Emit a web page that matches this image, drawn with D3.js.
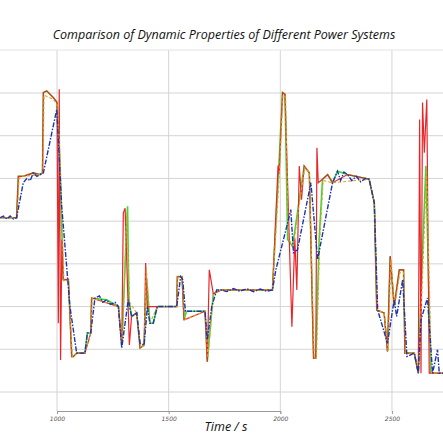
<!DOCTYPE html><html><head><meta charset="utf-8"><script src="https://cdn.jsdelivr.net/npm/d3@7/dist/d3.min.js"></script>
<style>body{margin:0;background:#fff}</style></head><body><svg id="c" width="443" height="443"></svg><script>
const title="Comparison of Dynamic Properties of Different Power Systems";
const xLabel="Time / s";
const xTicks=[1000,1500,2000,2500];
const yGrid=[0,1,2,3,4,5,6,7];
const blue=[[745,4.08],[760,4.12],[775,4.05],[790,4.12],[805,4.05],[819,4.08],[849,4.9],[865,5.0],[880,4.95],[894,5.13],[910,5.05],[924,5.09],[939,5.13],[999,6.62],[1021,4.35],[1058,2.0],[1073,1.46],[1088,0.91],[1125,0.91],[1136,1.38],[1151,1.38],[1170,2.2],[1190,2.25],[1205,2.1],[1222,2.16],[1240,2.05],[1260,2.1],[1275,2.0],[1290,1.03],[1319,2.16],[1334,1.77],[1357,1.85],[1372,1.14],[1390,1.1],[1405,2.0],[1416,1.61],[1431,1.61],[1449,2.0],[1536,2.0],[1554,2.7],[1563,2.63],[1575,1.89],[1663,1.89],[1673,1.22],[1693,2.0],[1715,2.39],[1734,2.39],[1760,2.35],[1790,2.42],[1820,2.36],[1850,2.42],[1880,2.35],[1910,2.41],[1940,2.36],[1965,2.39],[1980,2.86],[2033,3.96],[2047,4.27],[2059,3.26],[2077,3.33],[2137,4.9],[2167,3.1],[2234,4.9],[2256,5.17],[2270,4.95],[2285,5.15],[2301,5.09],[2320,4.95],[2340,5.05],[2360,4.92],[2380,5.0],[2398,4.98],[2421,4.43],[2436,1.92],[2458,1.53],[2480,1.14],[2510,2.16],[2521,1.77],[2548,2.63],[2567,0.83],[2600,0.91],[2618,0.44],[2630,1.69],[2659,2.2],[2682,0.44],[2704,0.99],[2712,0.44],[2728,0.44]];
const green=[[745,4.08],[819,4.08],[827,5.05],[849,5.05],[894,5.13],[924,5.09],[935,5.13],[939,7.01],[954,7.05],[984,6.89],[1000,6.78],[1013,5.37],[1028,2.63],[1051,2.63],[1066,0.83],[1073,0.83],[1088,0.91],[1125,0.91],[1136,1.38],[1151,1.38],[1155,2.2],[1222,2.16],[1275,2.0],[1290,1.1],[1316,4.35],[1322,2.16],[1334,1.77],[1357,1.85],[1372,1.03],[1390,1.1],[1402,2.63],[1416,1.61],[1431,1.61],[1449,2.0],[1536,2.0],[1539,2.7],[1560,2.7],[1569,1.69],[1580,1.89],[1663,1.89],[1673,0.71],[1700,2.3],[1734,2.39],[1965,2.39],[1995,5.45],[2010,7.01],[2021,6.97],[2033,3.57],[2055,3.41],[2085,4.5],[2107,5.29],[2130,5.13],[2149,0.79],[2159,0.79],[2174,3.57],[2189,4.98],[2212,5.09],[2234,4.9],[2256,5.17],[2301,5.09],[2398,4.98],[2421,4.43],[2432,1.92],[2465,1.85],[2480,0.95],[2492,3.18],[2510,2.0],[2533,2.86],[2552,2.86],[2558,0.91],[2600,0.91],[2618,0.44],[2630,2.3],[2652,5.29],[2674,0.44],[2728,0.44]];
const red=[[745,4.08],[819,4.08],[827,5.05],[849,5.05],[894,5.13],[924,5.09],[935,5.13],[939,7.01],[954,7.05],[984,6.89],[1000,6.78],[1006,1.61],[1010,7.09],[1016,0.75],[1022,3.57],[1028,2.63],[1051,2.63],[1066,0.83],[1073,0.83],[1088,0.91],[1125,0.91],[1151,1.38],[1155,2.2],[1275,2.0],[1290,1.1],[1297,4.19],[1305,4.3],[1324,1.1],[1334,1.77],[1357,1.85],[1372,1.03],[1390,1.1],[1397,3.02],[1405,2.0],[1449,2.0],[1536,2.0],[1539,2.7],[1560,2.7],[1569,1.69],[1663,1.89],[1673,0.71],[1682,2.86],[1700,2.3],[1734,2.39],[1965,2.39],[1990,5.3],[1995,5.1],[2010,7.01],[2021,6.97],[2040,3.6],[2052,1.53],[2065,3.6],[2074,2.39],[2085,5.29],[2095,4.5],[2107,5.29],[2130,5.13],[2149,0.79],[2159,0.79],[2164,5.72],[2170,4.9],[2189,4.98],[2212,5.09],[2234,4.9],[2301,5.09],[2398,4.98],[2421,4.43],[2432,1.92],[2465,1.85],[2480,0.95],[2492,3.18],[2510,2.0],[2533,2.86],[2552,2.86],[2558,0.91],[2600,0.91],[2618,0.44],[2624,6.38],[2630,0.44],[2637,6.78],[2645,5.6],[2656,6.85],[2667,0.44],[2728,0.44]];
const orange=[[745,4.08],[822,4.08],[830,5.0],[849,5.05],[924,5.09],[937,5.13],[942,6.95],[984,6.85],[1003,6.7],[1016,5.2],[1031,2.6],[1051,2.6],[1069,0.83],[1088,0.91],[1125,0.91],[1151,1.38],[1158,2.2],[1275,2.0],[1293,1.1],[1312,4.2],[1325,2.1],[1357,1.85],[1375,1.03],[1390,1.1],[1400,2.9],[1416,1.61],[1449,2.0],[1536,2.0],[1542,2.7],[1560,2.7],[1572,1.69],[1663,1.89],[1676,0.8],[1700,2.3],[1734,2.39],[1965,2.39],[1998,5.3],[2012,6.95],[2024,6.9],[2036,3.6],[2058,3.4],[2088,4.5],[2110,5.25],[2130,5.13],[2152,0.79],[2162,0.79],[2177,3.57],[2192,4.95],[2234,4.9],[2398,4.98],[2421,4.43],[2435,1.92],[2465,1.85],[2483,0.95],[2495,3.1],[2512,2.0],[2536,2.8],[2552,2.8],[2561,0.91],[2600,0.91],[2620,0.5],[2634,2.3],[2655,5.2],[2677,0.44],[2728,0.44]];

const svg=d3.select("#c");
const x=d3.scaleLinear().domain([1000,2000]).range([57,280.3]);
const y=d3.scaleLinear().domain([0,7]).range([392,93]);
const plotTop=50,plotBot=411;
svg.selectAll(".hg").data(yGrid).join("line").attr("x1",0).attr("x2",443).attr("y1",d=>y(d)).attr("y2",d=>y(d)).attr("stroke","#d4d4d4").attr("stroke-width",1);
svg.selectAll(".vg").data(xTicks).join("line").attr("x1",d=>x(d)).attr("x2",d=>x(d)).attr("y1",plotTop).attr("y2",plotBot).attr("stroke","#d4d4d4");
svg.append("line").attr("x1",0).attr("x2",443).attr("y1",plotTop).attr("y2",plotTop).attr("stroke","#e4e4e4");
const ax=svg.append("g").attr("transform",`translate(0,${plotBot})`).call(d3.axisBottom(x).tickValues(xTicks).tickSize(3).tickFormat(d3.format("d")));
ax.select(".domain").attr("stroke","#999");
ax.selectAll("line").attr("stroke","#999");
ax.selectAll("text").attr("font-size",6).attr("font-style","italic").attr("fill","#555").attr("font-family","DejaVu Sans");
const line=d3.line().x(d=>x(d[0])).y(d=>y(d[1]));
const g=svg.append("g");
g.append("path").datum(green).attr("d",line).attr("fill","none").attr("stroke","#33dd33").attr("stroke-width",1.6);
g.append("path").datum(red).attr("d",line).attr("fill","none").attr("stroke","#e8262a").attr("stroke-width",1.2);
g.append("path").datum(orange).attr("d",line).attr("fill","none").attr("stroke","#e0a030").attr("stroke-width",1.1).attr("stroke-dasharray","3,2");
g.append("path").datum(blue).attr("d",line).attr("fill","none").attr("stroke","#1a35b0").attr("stroke-width",1.4).attr("stroke-dasharray","5,1.5,1.5,1.5");
svg.append("text").attr("x",224).attr("y",39).attr("text-anchor","middle").attr("font-family","Open Sans").attr("font-style","italic").attr("font-size",12.5).attr("fill","#111").text(title);
svg.append("text").attr("x",226).attr("y",431).attr("text-anchor","middle").attr("font-family","Open Sans").attr("font-style","italic").attr("font-size",12.5).attr("fill","#111").text(xLabel);
</script></body></html>
